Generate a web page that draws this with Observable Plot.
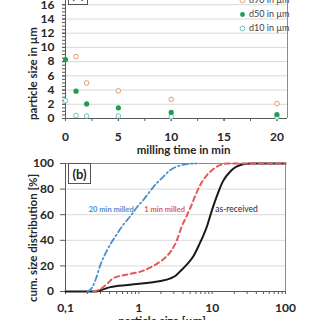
<!DOCTYPE html>
<html>
<head>
<meta charset="utf-8">
<script src="https://cdn.jsdelivr.net/npm/d3@7"></script>
<script src="https://cdn.jsdelivr.net/npm/@observablehq/plot@0.6"></script>
<style>
  html, body { margin: 0; padding: 0; background: #fff; overflow: hidden; }
  #fig { position: relative; width: 320px; height: 320px; font-family: Lato, "Open Sans", sans-serif; color: #262626; }
  #fig > svg { position: absolute; left: 0; overflow: visible; }
  .tag { position: absolute; box-sizing: border-box; border: 1px solid #555; background: #fff;
         font-weight: 700; font-size: 13px; display: flex; align-items: center; justify-content: center; }
  .legend { position: absolute; left: 239px; top: -7px; font-size: 9px; line-height: 14px; color: #404040; }
  .legend .row { display: flex; align-items: center; white-space: nowrap; height: 14px; }
  .legend svg { margin-right: 3px; }
</style>
</head>
<body>
<div id="fig"></div>
<script>
// ---- (a) characteristic particle sizes versus milling time ----
const millTime = [0, 1, 2, 5, 10, 20];
const d90 = [null, 8.7, 5.0, 3.9, 2.7, 2.1];   // as-received d90 lies above the plotted range
const d50 = [8.3, 3.85, 2.05, 1.5, 0.85, 0.55];
const d10 = [2.5, 0.42, 0.35, 0.35, 0.25, 0.2];
const timeTicks = [0, 5, 10, 15, 20];
const timeMinorTicks = [0, 2.5, 5, 7.5, 10, 12.5, 15, 17.5, 20];
const sizeTicksA = [0, 2, 4, 6, 8, 10, 12, 14, 16];
const sizeMinorTicksA = d3.range(0, 16.01, 0.5);
const legendNames = ["d90 in µm", "d50 in µm", "d10 in µm"];

// ---- (b) cumulative size distributions ----
const sizeAsReceived = [0.1, 0.26, 0.32, 0.41, 0.7, 1.0, 1.44, 2.0, 2.7, 3.2, 3.7, 4.5, 5.6, 6.7, 7.7, 8.5, 9.5, 11, 12.3, 14, 17.8, 20, 24.4, 33, 100];
const cumAsReceived  = [0, 0, 1.5, 3.4, 5.1, 6, 7, 8.2, 10.3, 12.5, 16, 21, 28, 37, 44.7, 51, 60, 71, 78.5, 86, 94, 96.5, 98.8, 100, 100];
const size1min = [0.24, 0.3, 0.37, 0.45, 0.6, 0.8, 1.05, 1.4, 1.8, 2.3, 2.7, 3.3, 3.8, 4.4, 5.1, 6, 7, 8.5, 10, 12.5, 16, 100];
const cum1min  = [0, 2, 6, 10.5, 12.5, 14, 15.5, 18.5, 22, 26.5, 31, 40, 50, 58, 66, 76, 84, 91, 95, 98.5, 100, 100];
const size20min = [0.2, 0.23, 0.26, 0.3, 0.36, 0.42, 0.48, 0.56, 0.65, 0.77, 0.95, 1.17, 1.45, 1.78, 2.1, 2.7, 3.7, 5, 6];
const cum20min  = [0, 3, 10, 21, 31, 38, 43, 49, 54, 59, 66, 72, 79, 85, 89, 95, 98.5, 99.8, 100];
const curveNames = ["20 min milled", "1 min milled", "as-received"];
const curveLabelSize = [0.42, 2.25, 21.5];
const curveLabelCum = [64, 64, 64];
const sizeTicksB = [0.1, 1, 10, 100];
const sizeTickLabelsB = ["0,1", "1", "10", "100"];
const sizeMinorTicksB = [0.2, 0.3, 0.4, 0.5, 0.6, 0.7, 0.8, 0.9, 2, 3, 4, 5, 6, 7, 8, 9, 20, 30, 40, 50, 60, 70, 80, 90];
const cumTicks = [0, 20, 40, 60, 80, 100];

const font = "Lato, 'Open Sans', sans-serif";
const colors = {d90: "#e69a72", d50: "#1f9d55", d10: "#6cc3c3",
                asReceived: "#1a1a1a", min1: "#e25a5a", min20: "#4d8ecb"};

const rowsA = millTime.map((t, i) => ({t, d90: d90[i], d50: d50[i], d10: d10[i]}));
const toRows = (xs, ys) => xs.map((s, i) => ({size: s, cum: ys[i]}));
const curveLabels = curveNames.map((name, i) => ({name, size: curveLabelSize[i], cum: curveLabelCum[i]}));
const curveColors = [colors.min20, colors.min1, "#262626"];

const fig = document.getElementById("fig");

const plotA = Plot.plot({
  width: 320, height: 152,
  marginTop: 0, marginBottom: 34, marginLeft: 65, marginRight: 33,
  style: {background: "transparent", fontFamily: font, color: "#262626", overflow: "visible"},
  x: {domain: [0, 21]},
  y: {domain: [0, 16.6]},
  marks: [
    Plot.gridY(sizeTicksA.slice(1), {stroke: "#d9d9d9", strokeOpacity: 1}),
    Plot.ruleX([21], {stroke: "#8c8c8c"}),
    Plot.ruleX([0], {stroke: "#595959"}),
    Plot.ruleY([0], {stroke: "#595959"}),
    Plot.axisY(sizeMinorTicksA, {tickSize: 3, tickFormat: () => "", label: null, stroke: "#595959"}),
    Plot.axisY(sizeTicksA, {tickSize: 3, tickPadding: 8, fontSize: 12, fontWeight: 700, label: null, stroke: "#595959"}),
    Plot.axisX(timeMinorTicks, {tickSize: 3, tickFormat: () => "", label: null, stroke: "#595959"}),
    Plot.axisX(timeTicks, {tickSize: 3, tickPadding: 10.5, fontSize: 12, fontWeight: 700, label: null, stroke: "#595959"}),
    Plot.text(["particle size in µm"], {frameAnchor: "left", textAnchor: "middle", lineAnchor: "middle",
      rotate: -90, dx: -32, dy: 14, fontSize: 11.5, fontWeight: 700, fill: "#262626"}),
    Plot.text(["milling time in min"], {frameAnchor: "bottom", textAnchor: "middle", lineAnchor: "middle",
      dx: 7, dy: 32, fontSize: 11.5, fontWeight: 700, fill: "#262626"}),
    Plot.dot(rowsA, {x: "t", y: "d10", r: 2.3, stroke: colors.d10, fill: "white", strokeWidth: 1}),
    Plot.dot(rowsA, {x: "t", y: "d90", r: 2.3, stroke: colors.d90, fill: "white", strokeWidth: 1}),
    Plot.dot(rowsA, {x: "t", y: "d50", r: 2.6, fill: colors.d50, stroke: "none"})
  ]
});
plotA.style.top = "0px";
fig.appendChild(plotA);

const plotB = Plot.plot({
  width: 320, height: 168,
  marginTop: 11, marginBottom: 29, marginLeft: 65, marginRight: 35,
  style: {background: "transparent", fontFamily: font, color: "#262626", overflow: "visible"},
  x: {type: "log", domain: [0.1, 100]},
  y: {domain: [0, 100]},
  marks: [
    Plot.gridY(cumTicks.slice(1, -1), {stroke: "#d9d9d9", strokeOpacity: 1}),
    Plot.frame({stroke: "#8c8c8c"}),
    Plot.ruleX([0.1], {stroke: "#595959"}),
    Plot.ruleY([0], {stroke: "#595959"}),
    Plot.axisY(cumTicks, {tickSize: 5, tickPadding: 6.5, fontSize: 12, fontWeight: 700, label: null, stroke: "#595959"}),
    Plot.axisX(sizeMinorTicksB, {tickSize: 3, tickFormat: () => "", label: null, stroke: "#595959"}),
    Plot.axisX(sizeTicksB, {tickSize: 3, tickPadding: 9, fontSize: 12, fontWeight: 700, label: null, stroke: "#595959",
      tickFormat: d => sizeTickLabelsB[sizeTicksB.indexOf(d)]}),
    Plot.text(["cum. size distribution [%]"], {frameAnchor: "left", textAnchor: "middle", lineAnchor: "middle",
      rotate: -90, dx: -32, dy: 10.5, fontSize: 11.5, fontWeight: 700, fill: "#262626"}),
    Plot.text(["particle size [µm]"], {frameAnchor: "bottom", textAnchor: "middle", lineAnchor: "middle",
      dx: -13.5, dy: 30, fontSize: 11.5, fontWeight: 700, fill: "#262626"}),
    Plot.line(toRows(sizeAsReceived, cumAsReceived), {x: "size", y: "cum", stroke: colors.asReceived,
      strokeWidth: 2, curve: "monotone-x"}),
    Plot.line(toRows(size1min, cum1min), {x: "size", y: "cum", stroke: colors.min1,
      strokeWidth: 2, strokeDasharray: "5,3.5", curve: "monotone-x"}),
    Plot.line(toRows(size20min, cum20min), {x: "size", y: "cum", stroke: colors.min20,
      strokeWidth: 1.8, strokeDasharray: "6,3,1.5,3", curve: "monotone-x"}),
    Plot.text(curveLabels.slice(0, 2), {x: "size", y: "cum", text: "name", fill: (d, i) => curveColors[i],
      fontSize: 7.5, fontWeight: 700}),
    Plot.text(curveLabels.slice(2), {x: "size", y: "cum", text: "name", fill: "#262626", fontSize: 8.5})
  ]
});
plotB.style.top = "152px";
fig.appendChild(plotB);

// panel tags
function tag(text, left, top, w, h) {
  const el = document.createElement("div");
  el.className = "tag";
  el.textContent = text;
  Object.assign(el.style, {left: left + "px", top: top + "px", width: w + "px", height: h + "px"});
  fig.appendChild(el);
}
tag("(a)", 68, -17, 20, 22);
tag("(b)", 68, 163, 23, 21);

// legend for panel (a)
const legend = document.createElement("div");
legend.className = "legend";
const legendStyles = [
  {fill: "white", stroke: colors.d90},
  {fill: colors.d50, stroke: "none"},
  {fill: "white", stroke: colors.d10}
];
legendNames.forEach((name, i) => {
  const row = document.createElement("div");
  row.className = "row";
  const s = legendStyles[i];
  row.innerHTML = `<svg width="7" height="7"><circle cx="3.5" cy="3.5" r="2.4" fill="${s.fill}" stroke="${s.stroke}" stroke-width="1"/></svg><span>${name}</span>`;
  legend.appendChild(row);
});
fig.appendChild(legend);
</script>
</body>
</html>
